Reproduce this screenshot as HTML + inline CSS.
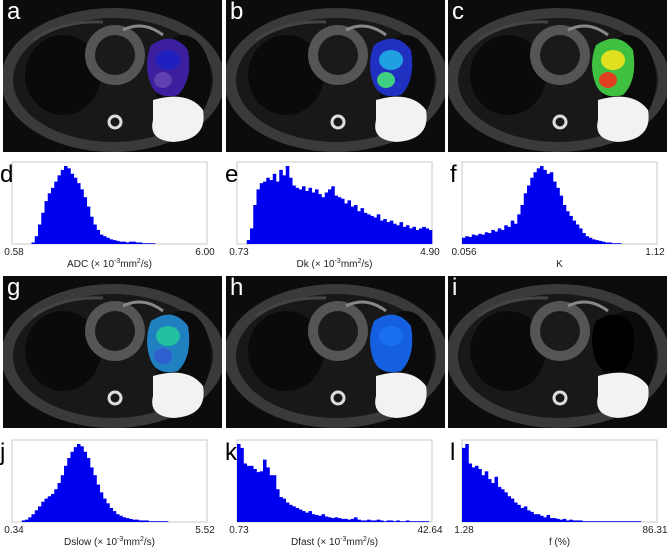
<!DOCTYPE html>
<html><head><meta charset="utf-8">
<style>
html,body{margin:0;padding:0;background:#fff;width:669px;height:548px;overflow:hidden;font-family:"Liberation Sans",sans-serif}
#root{position:relative;width:669px;height:548px}
.img{position:absolute;width:219px;height:152px;background:#0c0c0c;overflow:hidden}
.lbl{position:absolute;font-size:24px;color:#000;line-height:1}
.img .lbl{color:#fff;left:4px;top:0}
svg text{font-family:"Liberation Sans",sans-serif}
</style></head><body>
<div id="root">
<svg id="hist" width="669" height="548" style="position:absolute;left:0;top:0"></svg>
</div>
<script>
const panels=[
 {id:'a',x:3,y:0,roi:'a'},{id:'b',x:226,y:0,roi:'b'},{id:'c',x:448,y:0,roi:'c'},
 {id:'g',x:3,y:276,roi:'g'},{id:'h',x:226,y:276,roi:'h'},{id:'i',x:448,y:276,roi:'i'}];
const roiFill={a:['#3b1f9e','#2020c0','#6040b0'],b:['#2030c0','#20a0e0','#40d080'],c:['#40c040','#e0e020','#e04020'],g:['#2080c0','#20c0a0','#3060d0'],h:['#1560e0','#1a70f0','#1560e0'],i:['#000','#000','#000']};
const root=document.getElementById('root');
panels.forEach(p=>{
 const d=document.createElement('div');d.className='img';d.style.left=p.x+'px';d.style.top=p.y+'px';
 
 
 const c=roiFill[p.roi];
 d.innerHTML=`<svg width="219" height="152">
 <ellipse cx="110" cy="80" rx="112" ry="72" fill="#3a3a3a"/>
 <ellipse cx="110" cy="80" rx="100" ry="62" fill="#181818"/>
 <ellipse cx="60" cy="75" rx="38" ry="40" fill="#0a0a0a"/>
 <ellipse cx="112" cy="55" rx="30" ry="30" fill="#555"/>
 <ellipse cx="112" cy="55" rx="20" ry="20" fill="#1a1a1a"/>
 <ellipse cx="180" cy="80" rx="28" ry="45" fill="#0b0b0b"/>
 <path d="M120 30 Q140 20 160 35" stroke="#888" stroke-width="3" fill="none"/>
 <path d="M30 40 Q60 20 100 22" stroke="#444" stroke-width="3" fill="none"/>
 <path d="M150 100 Q185 90 200 110 Q205 140 170 142 Q145 140 150 120 Z" fill="#f2f2f2"/>
 <circle cx="112" cy="122" r="6" fill="none" stroke="#ddd" stroke-width="3"/>
 <path d="M148 45 Q170 30 185 50 Q190 80 175 95 Q155 100 148 85 Q140 65 148 45Z" fill="${c[0]}"/>
 <ellipse cx="165" cy="60" rx="12" ry="10" fill="${c[1]}"/>
 <ellipse cx="160" cy="80" rx="9" ry="8" fill="${c[2]}"/>
 </svg><div class="lbl">${p.id}</div>`;
 root.appendChild(d);
});

// Histogram data (relative bin heights)
const binsD=[0,0,0,0,0,0,.02,.1,.25,.4,.55,.65,.72,.8,.88,.95,1,.97,.9,.85,.78,.7,.6,.48,.35,.25,.18,.12,.1,.08,.06,.05,.04,.03,.03,.02,.03,.03,.02,.02,.01,.01,.01,.01,0,0,0,0,0,0,0,0,0,0,0,0,0,0,0,0];
const binsE=[0,0,0,.05,.2,.5,.7,.78,.8,.85,.82,.9,.8,.95,.88,1,.85,.75,.72,.7,.74,.68,.72,.66,.7,.64,.6,.66,.7,.74,.62,.6,.58,.52,.56,.48,.5,.42,.46,.4,.38,.36,.34,.38,.3,.32,.28,.3,.26,.24,.28,.22,.24,.2,.22,.18,.2,.22,.2,.18];
const binsF=[.08,.1,.09,.12,.11,.13,.12,.15,.14,.18,.16,.2,.18,.24,.22,.3,.26,.38,.5,.65,.75,.85,.92,.97,1,.95,.9,.92,.8,.72,.62,.5,.42,.36,.3,.25,.2,.14,.1,.08,.06,.05,.04,.03,.02,.02,.01,.01,.01,0,0,0,0,0,0,0,0,0,0,0];
const binsJ=[0,0,0,.02,.03,.06,.1,.15,.2,.26,.3,.33,.36,.42,.5,.6,.72,.82,.9,.96,1,.97,.9,.82,.7,.6,.48,.38,.3,.24,.18,.14,.1,.08,.06,.05,.04,.03,.03,.02,.02,.02,.01,.01,.01,.01,.01,.01,0,0,0,0,0,0,0,0,0,0,0,0];
const binsK=[1,.95,.75,.72,.72,.68,.64,.65,.8,.7,.6,.6,.42,.32,.3,.25,.22,.2,.18,.16,.14,.12,.14,.1,.09,.08,.1,.07,.06,.05,.06,.05,.04,.04,.03,.04,.06,.03,.02,.02,.03,.02,.02,.03,.02,.01,.02,.02,.01,.02,.01,.01,.02,.01,.01,.01,.01,.01,.01,0];
const binsL=[.95,1,.75,.7,.72,.68,.6,.65,.55,.5,.58,.45,.42,.38,.33,.3,.25,.22,.18,.2,.15,.13,.1,.1,.08,.06,.09,.05,.05,.04,.03,.04,.02,.03,.02,.02,.02,.01,.01,.01,.01,.01,.01,.01,.01,.01,.01,.01,.01,.01,.01,.01,.01,.01,.01,0,0,0,0,0];
const ticksD=['0.58','6.00'],ticksE=['0.73','4.90'],ticksF=['0.056','1.12'];
const ticksJ=['0.34','5.52'],ticksK=['0.73','42.64'],ticksL=['1.28','86.31'];
const hists=[
 {id:'d',x:12,y:162,bins:binsD,ticks:ticksD,title:'ADC (× 10<tspan dy="-4" font-size="7">-3</tspan><tspan dy="4">mm</tspan><tspan dy="-4" font-size="7">2</tspan><tspan dy="4">/s)</tspan>'},
 {id:'e',x:237,y:162,bins:binsE,ticks:ticksE,title:'Dk (× 10<tspan dy="-4" font-size="7">-3</tspan><tspan dy="4">mm</tspan><tspan dy="-4" font-size="7">2</tspan><tspan dy="4">/s)</tspan>'},
 {id:'f',x:462,y:162,bins:binsF,ticks:ticksF,title:'K'},
 {id:'j',x:12,y:440,bins:binsJ,ticks:ticksJ,title:'Dslow (× 10<tspan dy="-4" font-size="7">-3</tspan><tspan dy="4">mm</tspan><tspan dy="-4" font-size="7">2</tspan><tspan dy="4">/s)</tspan>'},
 {id:'k',x:237,y:440,bins:binsK,ticks:ticksK,title:'Dfast (× 10<tspan dy="-4" font-size="7">-3</tspan><tspan dy="4">mm</tspan><tspan dy="-4" font-size="7">2</tspan><tspan dy="4">/s)</tspan>'},
 {id:'l',x:462,y:440,bins:binsL,ticks:ticksL,title:'f (%)'}];
const W=195,H=82,NS='http://www.w3.org/2000/svg';
const svg=document.getElementById('hist');
function mk(t,a){const e=document.createElementNS(NS,t);for(const k in a)e.setAttribute(k,a[k]);return e;}
hists.forEach(h=>{
 const g=mk('g',{});
 
 
 const box=mk('rect',{x:h.x,y:h.y,width:W,height:H,fill:'#fff',stroke:'#c8c8c8','stroke-width':1});
 
 
 g.appendChild(box);
 const n=h.bins.length,bw=W/n;
 const xs=i=>h.x+i*bw, ys=v=>h.y+H-v*(H-4);
 h.bins.forEach((v,i)=>{if(v<=0)return;
  const r=mk('rect',{x:xs(i),y:ys(v),width:bw+0.3,height:h.y+H-ys(v),fill:'#0000f0'});
  
  
  g.appendChild(r);});
 const t0=mk('text',{x:h.x+2,y:h.y+H+11,'font-size':10,'text-anchor':'middle',fill:'#222'});t0.textContent=h.ticks[0];
 
 
 const t1=mk('text',{x:h.x+W-2,y:h.y+H+11,'font-size':10,'text-anchor':'middle',fill:'#222'});t1.textContent=h.ticks[1];
 
 
 const tt=mk('text',{x:h.x+W/2,y:h.y+H+23,'font-size':10,'text-anchor':'middle',fill:'#222'});tt.innerHTML=h.title;
 
 
 const lb=mk('text',{x:h.x-12,y:h.y+20,'font-size':24,fill:'#000'});lb.textContent=h.id;
 
 
 g.append(t0,t1,tt,lb);svg.appendChild(g);
});
</script>
</body></html>
